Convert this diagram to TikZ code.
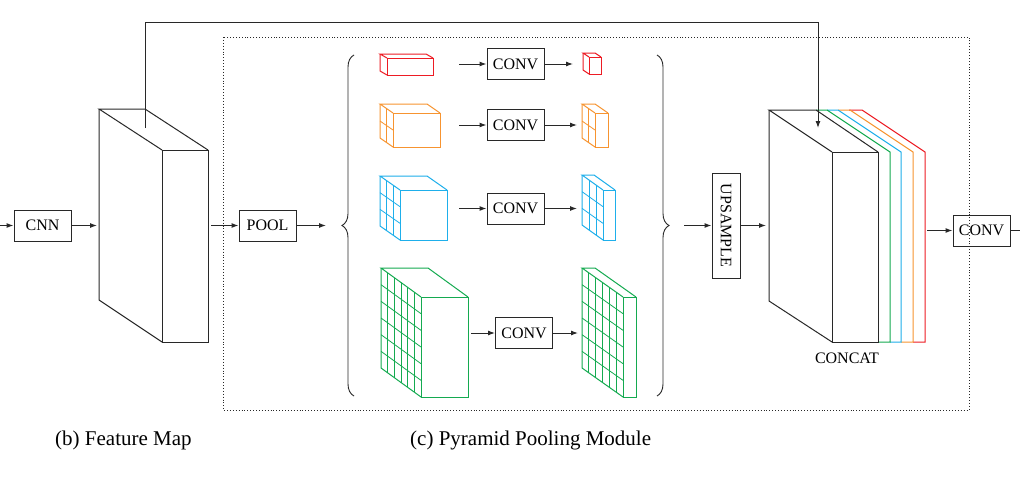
\documentclass[tikz,border=0pt]{standalone}
\usepackage{fontspec}
\setmainfont{Liberation Serif}
\usetikzlibrary{arrows.meta,decorations.pathreplacing}
\definecolor{cred}{RGB}{237,28,36}
\definecolor{corange}{RGB}{247,148,48}
\definecolor{cblue}{RGB}{30,175,235}
\definecolor{cgreen}{RGB}{20,170,80}
\definecolor{cline}{RGB}{40,40,40}
% \mycube{color}{bx}{by}{fx}{fy}{fx2}{fy2}{n}
\newcommand{\mycube}[8]{%
  \pgfmathsetmacro{\dx}{#4-#2}\pgfmathsetmacro{\dy}{#5-#3}%
  \draw[#1,line width=1pt,line join=miter] (#4,#5) rectangle (#6,#7);
  \draw[#1,line width=1pt] (#4,#5) -- (#2,#3) -- (#2+#6-#4,#3) -- (#6,#5);
  \draw[#1,line width=1pt] (#2,#3) -- (#2,#7-\dy) -- (#4,#7);
  \ifnum#8>1
  \foreach \k in {1,...,\numexpr#8-1\relax}{%
    \pgfmathsetmacro{\t}{\k/#8}%
    \draw[#1,line width=0.8pt] ({#2+\t*\dx},{#3+\t*\dy}) -- ({#2+\t*\dx},{#7-\dy+\t*\dy});
    \draw[#1,line width=0.8pt] (#2,{#3+\t*(#7-#5)}) -- (#4,{#5+\t*(#7-#5)});
  }\fi
}
\begin{document}
\begin{tikzpicture}[x=1pt,y=-1pt,
  box/.style={draw=cline,line width=1pt,inner sep=0pt,minimum width=57pt,minimum height=31pt,font=\fontsize{16}{16}\selectfont},
  arr/.style={-{Latex[length=7pt,width=5pt]},line width=1pt,cline},
  ln/.style={line width=1pt,cline}]
\useasboundingbox (0,0) rectangle (1020,479);
\fill[white] (0,0) rectangle (1020,479);
% dotted module frame
\draw[dotted,line width=0.9pt,cline] (223,37) rectangle (969,410);
% feature map
\draw[ln,line join=miter] (162,150) rectangle (208,342);
\draw[ln] (162,150) -- (99,109) -- (145,109) -- (208,150);
\draw[ln] (99,109) -- (99,300) -- (162,342);
% nodes
\node[box] (cnn) at (42.5,225.5) {CNN};
\node[box] (pool) at (267.5,225.5) {POOL};
\node[box] (c1) at (515.5,64) {CONV};
\node[box] (c2) at (515.5,125) {CONV};
\node[box] (c3) at (515.5,208.5) {CONV};
\node[box] (c4) at (524,333) {CONV};
\node[box] (c5) at (981.5,230.5) {CONV};
\node[box,minimum width=28pt,minimum height=105pt] (up) at (726,225.5) {};
\node[rotate=-90,font=\fontsize{16}{16}\selectfont,inner sep=0pt] (uptxt) at (up.center) {UPSAMPLE};
\node[font=\fontsize{16}{16}\selectfont,inner sep=0pt] (concat) at (847,358) {CONCAT};
\node[font=\fontsize{21}{21}\selectfont,inner sep=0pt,anchor=west] (capb) at (55,440) {(b) Feature Map};
\node[font=\fontsize{21}{21}\selectfont,inner sep=0pt,anchor=west] (capc) at (410,440) {(c) Pyramid Pooling Module};
% coordinates
\coordinate (in) at (0,225.5);
\coordinate (fmL) at (97,225.5);
\coordinate (fmR) at (211,225.5);
\coordinate (brL) at (326,225.5);
\coordinate (brR) at (684,225.5);
\coordinate (ccL) at (766,225.5);
\coordinate (ccR) at (927,230.5);
\coordinate (out) at (1020,230.5);
\coordinate (skip0) at (145,128);
\coordinate (skip1) at (818,128);
% pyramid cubes
\mycube{cred}{380}{54}{387}{58}{433}{75}{1}
\mycube{cred}{583}{53}{589}{57}{601}{74}{1}
\mycube{corange}{380}{104}{393}{113}{440}{147}{2}
\mycube{corange}{582}{104}{595}{113}{608}{147}{2}
\mycube{cblue}{380}{176}{400}{190}{447}{240}{3}
\mycube{cblue}{582}{175}{603}{190}{615}{240}{3}
\mycube{cgreen}{381}{268}{421}{297}{468}{397}{6}
\mycube{cgreen}{582}{268}{623}{297}{636}{397}{6}
% pyramid arrows
\draw[arr] (459,64) -- (c1.west);
\draw[arr] (c1.east) -- (573,64);
\draw[arr] (459,125) -- (c2.west);
\draw[arr] (c2.east) -- (577,125);
\draw[arr] (459,208.5) -- (c3.west);
\draw[arr] (c3.east) -- (577,208.5);
\draw[arr] (471,333) -- (c4.west);
\draw[arr] (c4.east) -- (578,333);
% braces
\draw[ln,line width=0.9pt,decorate,decoration={brace,amplitude=12pt,aspect=0.5}] (354,396) -- (354,55);
\draw[ln,line width=0.9pt,decorate,decoration={brace,amplitude=12pt,aspect=0.5}] (657,55) -- (657,396);
% concat block
\draw[cred,line width=1pt] (849,110) -- (862,110) -- (925,152) -- (925,342) -- (913,342);
\draw[corange,line width=1pt] (838,110) -- (850,110) -- (913,152) -- (913,342) -- (901,342);
\draw[cblue,line width=1pt] (827,110) -- (838,110) -- (901,152) -- (901,342) -- (890,342);
\draw[cgreen,line width=1pt] (816,110) -- (827,110) -- (890,152) -- (890,342) -- (878,342);
\draw[ln,line join=miter] (832,152) rectangle (878,342);
\draw[ln] (832,152) -- (769,110) -- (816,110) -- (878,152);
\draw[ln] (769,110) -- (769,301) -- (832,342);
% main flow
\draw[arr] (in) -- (cnn.west);
\draw[arr] (cnn.east) -- (fmL);
\draw[arr] (fmR) -- (pool.west);
\draw[arr] (pool.east) -- (brL);
\draw[arr] (brR) -- (up.west);
\draw[arr] (up.east) -- (ccL);
\draw[arr] (ccR) -- (c5.west);
\draw[ln] (c5.east) -- (out);
\draw[arr] (skip0) |- (818,22) -- (skip1);
\end{tikzpicture}
\end{document}
